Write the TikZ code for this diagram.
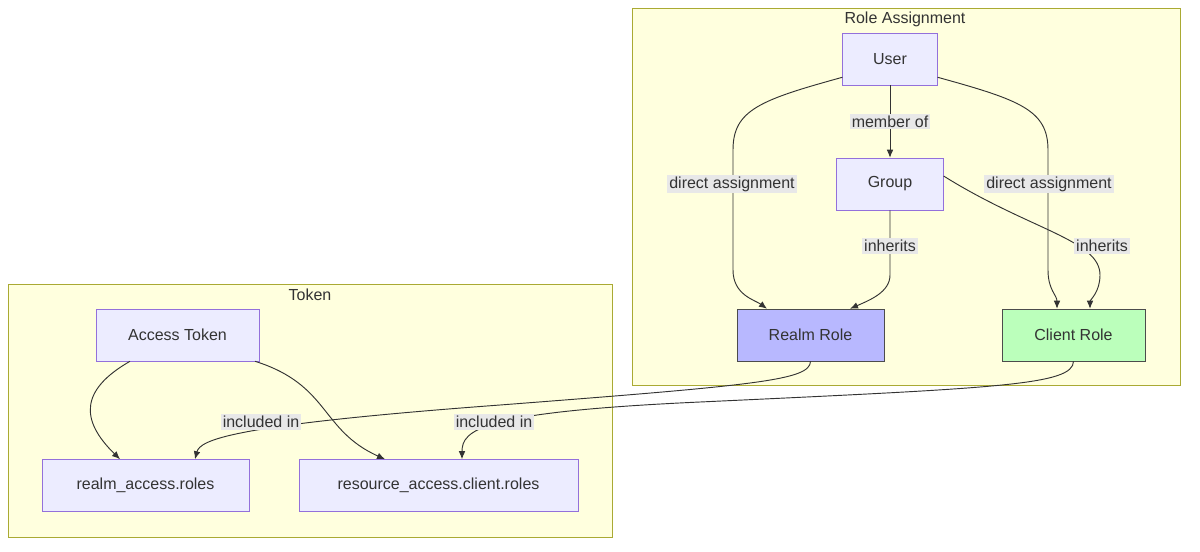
\documentclass[tikz,border=0pt]{standalone}
\usepackage{fontspec}
\setmainfont{Liberation Sans}
\usetikzlibrary{arrows.meta}
\definecolor{nodefill}{HTML}{ECECFF}
\definecolor{nodeline}{HTML}{9370DB}
\definecolor{clusterfill}{HTML}{FFFFDE}
\definecolor{clusterline}{HTML}{AAAA33}
\definecolor{realmfill}{HTML}{B8B8FF}
\definecolor{clientfill}{HTML}{BBFFBB}
\definecolor{labelfill}{HTML}{E8E8E8}
\tikzset{
  box/.style={draw=nodeline, fill=nodefill, inner sep=0pt, font=\fontsize{12}{14}\selectfont, text=black!80},
  cluster/.style={draw=clusterline, fill=clusterfill},
  edge/.style={draw=black!80, line width=0.7pt, -{Latex[length=6pt,width=5pt]}},
  elabel/.style={fill=labelfill, inner sep=1.5pt, font=\fontsize{12}{14}\selectfont, text=black!80}
}
\begin{document}
\begin{tikzpicture}[x=0.75pt,y=-0.75pt]
                \useasboundingbox (0,0) rectangle (1200,551);
                % clusters
                \draw[cluster] (632,8) rectangle (1180,385);
                \node[font=\fontsize{12}{14}\selectfont, text=black!80] (raTitle) at (905,19) {Role Assignment};
                \draw[cluster] (8,284) rectangle (612,537);
                \node[font=\fontsize{12}{14}\selectfont, text=black!80] (tokTitle) at (310,295) {Token};

                % nodes
                \node[box, minimum width=71pt, minimum height=39pt] (user) at (890,59) {User};
                \node[box, minimum width=80pt, minimum height=39pt] (group) at (890,184) {Group};
                \node[box, fill=realmfill, draw=black!70, minimum width=110pt, minimum height=39pt] (realm) at (810.5,335) {Realm Role};
                \node[box, fill=clientfill, draw=black!70, minimum width=107pt, minimum height=39pt] (client) at (1073.5,335) {Client Role};
                \node[box, minimum width=122pt, minimum height=39pt] (token) at (177.5,335) {Access Token};
                \node[box, minimum width=155pt, minimum height=39pt] (realmroles) at (145.5,485.5) {realm\_access.roles};
                \node[box, minimum width=209pt, minimum height=39pt] (resroles) at (438.5,485.5) {resource\_access.client.roles};

                % connectors
                \draw[edge] (user) -- (group) node[elabel, pos=0.5] {member of};
                \draw[edge] (user.south west) ++(0,-8) coordinate (uw) (uw) .. controls (760,100) and (733,110) .. (733,150) -- (733,270) .. controls (733,295) and (755,300) .. (realm.north west -| 767,0);
                \node[elabel] (l1) at (732,184) {direct assignment};
                \draw[edge] (user.south east) ++(0,-8) coordinate (ue) (ue) .. controls (1020,100) and (1048,110) .. (1048,150) -- (1048,270) .. controls (1048,290) and (1057,295) .. (client.north -| 1057,0);
                \node[elabel] (l2) at (1049,184) {direct assignment};
                \draw[edge] (group.south) -- (890,275) .. controls (890,292) and (870,300) .. (realm.north -| 850,0);
                \node[elabel] (l3) at (890,246) {inherits};
                \draw[edge] (group.east) ++(0,-8) coordinate (ge) (ge) .. controls (1030,230) and (1100,240) .. (1100,275) .. controls (1100,292) and (1090,300) .. (client.north -| 1090,0);
                \node[elabel] (l4) at (1102,246) {inherits};
                \draw[edge] (realm.south) .. controls (810,380) and (760,385) .. (500,405) .. controls (230,425) and (200,440) .. (realmroles.north -| 195,0);
                \node[elabel] (l5) at (261,422) {included in};
                \draw[edge] (client.south) .. controls (1073,385) and (1000,388) .. (700,402) .. controls (480,412) and (462,430) .. (resroles.north -| 462,0);
                \node[elabel] (l6) at (494,422) {included in};
                \draw[edge] (token.south -| 130,0) .. controls (80,390) and (80,420) .. (realmroles.north -| 120,0);
                \draw[edge] (token.south -| 255,0) .. controls (330,385) and (320,430) .. (resroles.north -| 385,0);
\end{tikzpicture}
\end{document}
